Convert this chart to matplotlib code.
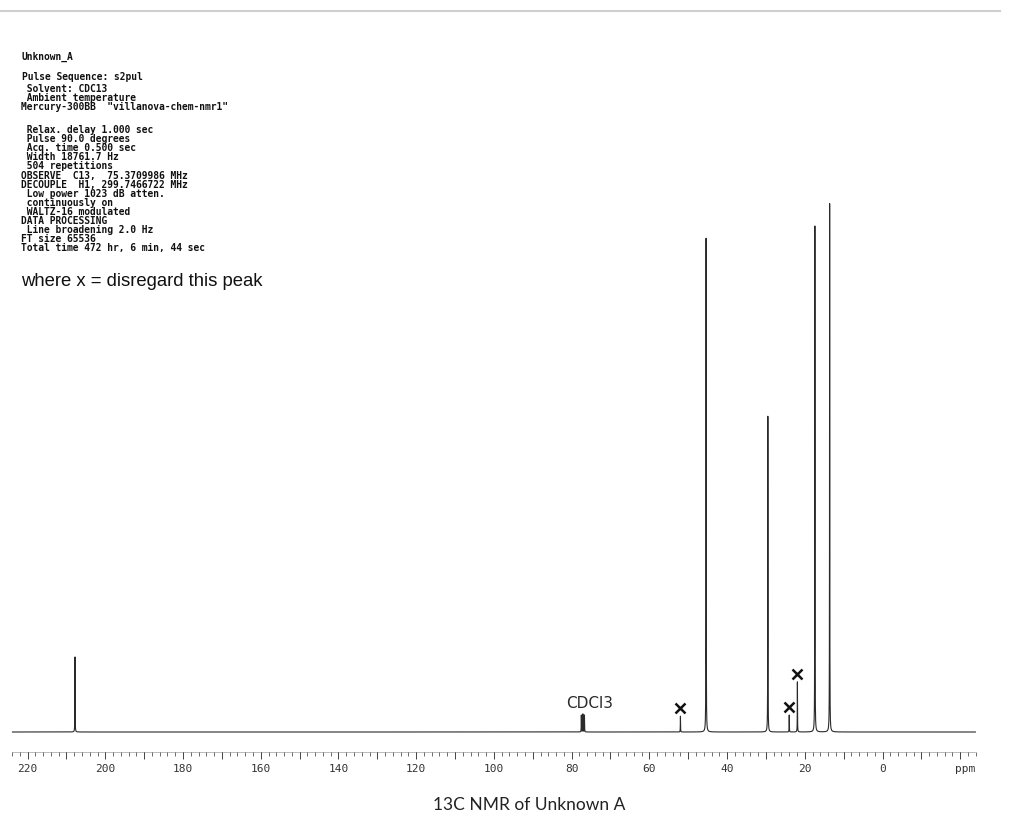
import numpy as np
import matplotlib
matplotlib.use("Agg")
import matplotlib.pyplot as plt

# ---- data ----
peak_ppm = [207.8, 77.5, 77.1, 76.7, 52.0, 45.4, 29.5, 24.0, 21.9, 17.4, 13.6]
peak_height = [14.2, 3.2, 3.4, 3.2, 3.0, 93.6, 59.9, 3.2, 9.5, 95.7, 100.0]
disregard_ppm = [52.0, 24.0, 21.9]
disregard_height = [3.0, 3.2, 9.5]
tick_labels = [220, 200, 180, 160, 140, 120, 100, 80, 60, 40, 20, 0]

header_lines = [
    (21.7, 56.5, "Unknown_A"),
    (21.7, 77.0, "Pulse Sequence: s2pul"),
    (20.7, 89.5, " Solvent: CDC13"),
    (20.7, 98.0, " Ambient temperature"),
    (20.7, 106.5, "Mercury-300BB  \"villanova-chem-nmr1\""),
]
param_lines = [
    " Relax. delay 1.000 sec",
    " Pulse 90.0 degrees",
    " Acq. time 0.500 sec",
    " Width 18761.7 Hz",
    " 504 repetitions",
    "OBSERVE  C13,  75.3709986 MHz",
    "DECOUPLE  H1, 299.7466722 MHz",
    " Low power 1023 dB atten.",
    " continuously on",
    " WALTZ-16 modulated",
    "DATA PROCESSING",
    " Line broadening 2.0 Hz",
    "FT size 65536",
    "Total time 472 hr, 6 min, 44 sec",
]

W, H = 1019, 821
fig = plt.figure(figsize=(W / 100, H / 100), dpi=100)
ax = fig.add_axes([0, 0, 1, 1])
ax.set_axis_off()

# pixel mapping: x_px = 882.5 - 3.886*ppm ; y_px = 732 - 5.29*I
sx, x0 = 3.886, 882.5
sy, y0 = 5.29, 732.0
ax.set_xlim(x0 / sx, (x0 - W) / sx)
ax.set_ylim((y0 - H) / sy, y0 / sy)

def yd(py):
    return (y0 - py) / sy

def fx(px):
    return px / W

def fy(py):
    return 1 - py / H

# spectrum built from the peak list (Lorentzian line shape)
ppm = np.linspace(223.9, -23.9, 60000)
spec = np.zeros_like(ppm)
w = 0.03
for p, h in zip(peak_ppm, peak_height):
    spec += h * w**2 / ((ppm - p) ** 2 + w**2)
ax.plot(ppm, spec, color="#2a2a2a", lw=0.8)

# scale ticks
ax.plot([223.9, -23.9], [yd(752), yd(752)], color="#a0a0a0", lw=0.5)
minor = np.arange(-24, 224.1, 2)
major = np.arange(-20, 224.1, 10)
ax.vlines(minor, yd(752), yd(756), color="#555555", lw=0.6)
ax.vlines(major, yd(752), yd(759), color="#444444", lw=0.7)
for t in tick_labels:
    ax.text(t, yd(768.5), str(t), ha="center", va="center",
            family="DejaVu Sans Mono", fontsize=8, color="#333333")
ax.text(-21.3, yd(768.5), "ppm", ha="center", va="center",
        family="DejaVu Sans Mono", fontsize=8, color="#333333")

# hand-written annotations
ax.text(77.1 - 1.8, yd(703), "CDCl3", ha="center", va="center",
        family="DejaVu Sans", fontsize=11, color="#2a2a2a")
for p, h in zip(disregard_ppm, disregard_height):
    ax.plot([p], [h + 1.5], marker="x", ms=6.5, mew=1.8, color="#111111")

# header text
for x, y, s in header_lines:
    fig.text(fx(x), fy(y), s, ha="left", va="center",
             family="DejaVu Sans Mono", fontsize=6.9, color="#111111", fontweight="bold")
for i, s in enumerate(param_lines):
    fig.text(fx(20.7), fy(130.0 + 9.1 * i), s, ha="left", va="center",
             family="DejaVu Sans Mono", fontsize=6.9, color="#111111", fontweight="bold")

fig.text(fx(21.5), fy(281), "where x = disregard this peak", ha="left", va="center",
         family="Liberation Sans", fontsize=13.3, color="#111111")
fig.text(fx(528.8), fy(805), "13C NMR of Unknown A", ha="center", va="center",
         family="Lato", fontsize=12.5, color="#222222")

# top border line of the scan
fig.add_artist(plt.Line2D([0, 1000 / W], [fy(11), fy(11)], color="#cfcfcf", lw=1.5))

fig.savefig("out.png", dpi=100, facecolor="white")
